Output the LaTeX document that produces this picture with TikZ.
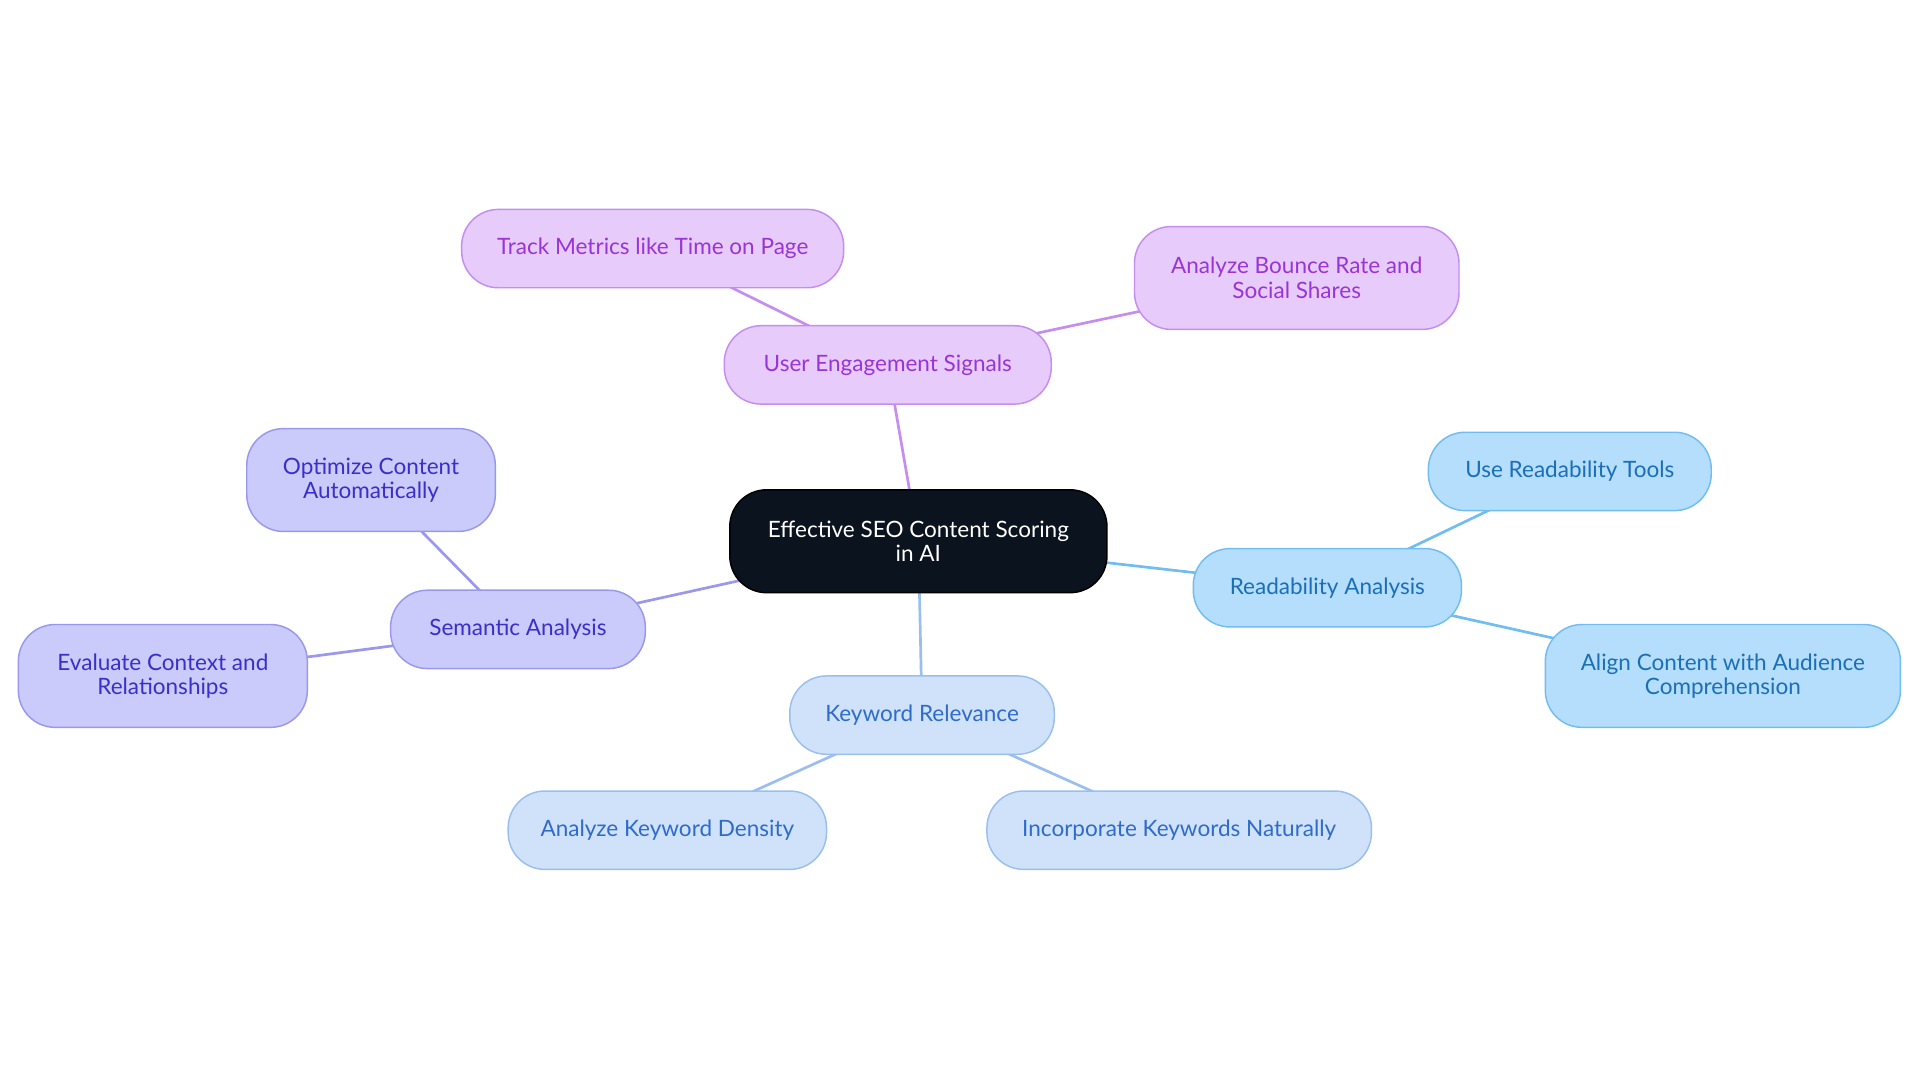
\documentclass[tikz,border=0pt]{standalone}
\usepackage{fontspec}
\setmainfont{Lato}
\usetikzlibrary{backgrounds}
\begin{document}
\begin{tikzpicture}[x=0.5pt,y=-0.5pt,
 box/.style={rounded corners=15pt,draw,line width=0.6pt,align=center,font=\fontsize{9.2}{10}\selectfont,inner sep=0pt},
 pu/.style={box,fill=pf,draw=ps,text=pt},
 vi/.style={box,fill=vf,draw=vs,text=vt},
 kb/.style={box,fill=kf,draw=ks,text=kt},
 rb/.style={box,fill=rf,draw=rs,text=rt},
 e/.style={line width=1.1pt}]
\definecolor{pf}{HTML}{E7CBFB}\definecolor{ps}{HTML}{C58DEF}\definecolor{pt}{HTML}{9A34D6}
\definecolor{vf}{HTML}{CACAFB}\definecolor{vs}{HTML}{9A98EE}\definecolor{vt}{HTML}{3A2FC8}
\definecolor{kf}{HTML}{CFE2FA}\definecolor{ks}{HTML}{9ABFEF}\definecolor{kt}{HTML}{2E6BCB}
\definecolor{rf}{HTML}{B5DEFC}\definecolor{rs}{HTML}{72BDF0}\definecolor{rt}{HTML}{1B6FB8}
\definecolor{cf}{HTML}{0B131E}
\useasboundingbox (0,0) rectangle (1568,884);
\node[box,fill=cf,draw=black,text=white,minimum width=154pt,minimum height=42pt] (c) at (750,442) {Effective SEO Content Scoring\\in AI};
\node[pu,minimum width=133.5pt,minimum height=32pt] (u) at (725,298) {User Engagement Signals};
\node[pu,minimum width=156pt,minimum height=32pt] (u1) at (533,203) {Track Metrics like Time on Page};
\node[pu,minimum width=132.5pt,minimum height=42pt] (u2) at (1059,227) {Analyze Bounce Rate and\\Social Shares};
\node[vi,minimum width=104pt,minimum height=32pt] (s) at (423,514) {Semantic Analysis};
\node[vi,minimum width=101.5pt,minimum height=42pt] (s1) at (303,392) {Optimize Content\\Automatically};
\node[vi,minimum width=118pt,minimum height=42pt] (s2) at (133,552) {Evaluate Context and\\Relationships};
\node[kb,minimum width=108pt,minimum height=32pt] (k) at (753,584) {Keyword Relevance};
\node[kb,minimum width=130pt,minimum height=32pt] (k1) at (545,678) {Analyze Keyword Density};
\node[kb,minimum width=157pt,minimum height=32pt] (k2) at (963,678) {Incorporate Keywords Naturally};
\node[rb,minimum width=109.5pt,minimum height=32pt] (r) at (1084,480) {Readability Analysis};
\node[rb,minimum width=115.5pt,minimum height=32pt] (r1) at (1282,385) {Use Readability Tools};
\node[rb,minimum width=145pt,minimum height=42pt] (r2) at (1407,552) {Align Content with Audience\\Comprehension};
\begin{scope}[on background layer]
\draw[e,draw=ps] (c.center) -- (u.center); \draw[e,draw=ps] (u.center) -- (u1.center); \draw[e,draw=ps] (u.center) -- (u2.center);
\draw[e,draw=vs] (c.center) -- (s.center); \draw[e,draw=vs] (s.center) -- (s1.center); \draw[e,draw=vs] (s.center) -- (s2.center);
\draw[e,draw=ks] (c.center) -- (k.center); \draw[e,draw=ks] (k.center) -- (k1.center); \draw[e,draw=ks] (k.center) -- (k2.center);
\draw[e,draw=rs] (c.center) -- (r.center); \draw[e,draw=rs] (r.center) -- (r1.center); \draw[e,draw=rs] (r.center) -- (r2.center);
\end{scope}
\end{tikzpicture}
\end{document}
